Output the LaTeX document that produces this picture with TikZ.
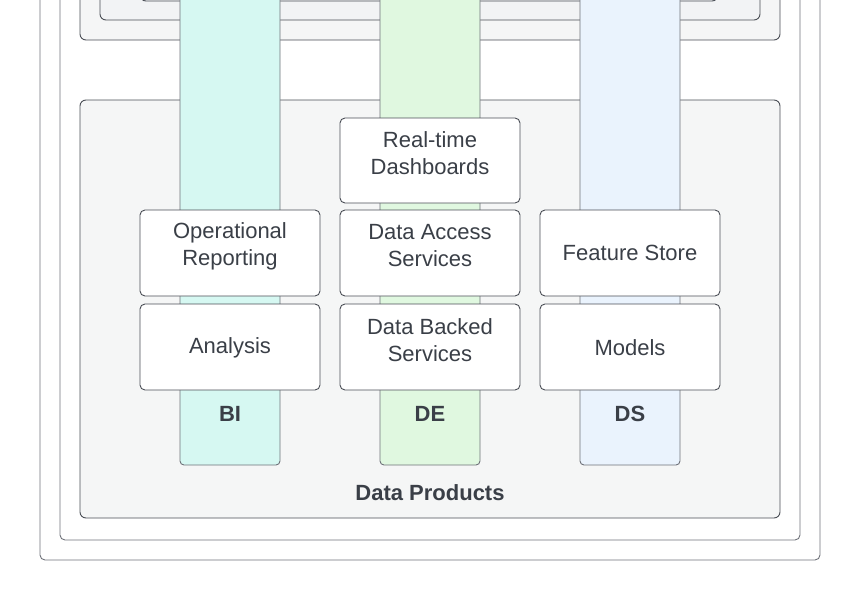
\documentclass[tikz,border=0pt]{standalone}
\usepackage{fontspec}
\setmainfont{Liberation Sans}
\definecolor{linegray}{HTML}{6E7179}
\definecolor{darkline}{HTML}{4A4E56}
\definecolor{txt}{HTML}{3A3F47}
\definecolor{panel}{HTML}{F5F6F6}
\definecolor{panelB}{HTML}{F2F3F5}
\definecolor{biFill}{HTML}{D6F8F2}
\definecolor{deFill}{HTML}{E0F8E0}
\definecolor{dsFill}{HTML}{EAF3FD}
\tikzset{
  frame/.style={draw=linegray, line width=0.9pt, rounded corners=5pt},
  container/.style={draw=darkline, line width=0.9pt, rounded corners=6pt, fill=panel},
  column/.style={draw=linegray, line width=0.9pt, rounded corners=4pt},
  itembox/.style={draw=darkline, line width=0.9pt, rounded corners=5pt, fill=white,
    minimum width=180pt, minimum height=86pt, inner sep=0pt},
  itemtext/.style={align=center, inner sep=0pt,
    text=txt, font=\fontsize{22}{27}\selectfont},
  collabel/.style={text=txt, font=\fontsize{22}{26}\selectfont\bfseries, inner sep=0pt}
}
\begin{document}
\begin{tikzpicture}[x=1pt,y=-1pt]
\useasboundingbox (0,0) rectangle (860,600);
\clip (0,0) rectangle (860,600);
% outer frames
\draw[frame] (40,-40) rectangle (820,560);
\draw[frame] (60,-40) rectangle (800,540);
% top containers (cut off)
\draw[container] (80,-60) rectangle (780,40);
\draw[container, fill=panelB] (100,-60) rectangle (760,20);
\draw[container, fill=panelB] (140,-60) rectangle (718,1);
% data products container
\node[container, minimum width=700pt, minimum height=418pt, inner sep=0pt] (dp) at (430,309) {};
\node[collabel] (dplabel) at (430,493) {Data Products};
% columns
\draw[column, fill=biFill] (180,-40) rectangle (280,465);
\draw[column, fill=deFill] (380,-40) rectangle (480,465);
\draw[column, fill=dsFill] (580,-40) rectangle (680,465);
% item boxes
\node[itembox, minimum height=85pt] (rtd) at (430,160.5) {};
\node[itembox] (opr) at (230,253) {};
\node[itembox] (das) at (430,253) {};
\node[itembox] (fs) at (630,253) {};
\node[itembox] (ana) at (230,347) {};
\node[itembox] (dbs) at (430,347) {};
\node[itembox] (mod) at (630,347) {};
% item texts
\node[itemtext] (rtdT) at ([yshift=7pt]rtd.center) {Real-time\\Dashboards};
\node[itemtext] (oprT) at ([yshift=7pt]opr.center) {Operational\\Reporting};
\node[itemtext] (dasT) at ([yshift=7pt]das.center) {Data Access\\Services};
\node[itemtext] (fsT) at ([yshift=0pt]fs.center) {Feature Store};
\node[itemtext] (anaT) at ([yshift=-1pt]ana.center) {Analysis};
\node[itemtext] (dbsT) at ([yshift=7pt]dbs.center) {Data Backed\\Services};
\node[itemtext] (modT) at ([yshift=-1pt]mod.center) {Models};
% column labels
\node[collabel] (bi) at (230,414) {BI};
\node[collabel] (de) at (430,414) {DE};
\node[collabel] (ds) at (630,414) {DS};
\end{tikzpicture}
\end{document}
